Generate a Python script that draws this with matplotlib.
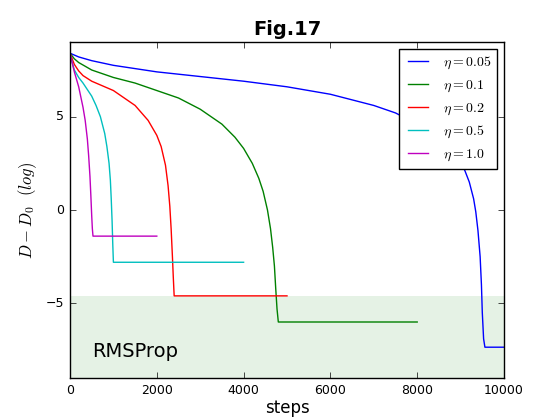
import matplotlib
matplotlib.use("Agg")
import matplotlib.pyplot as plt

plt.style.use('classic')

labels = [r'$\eta=0.05$', r'$\eta=0.1$', r'$\eta=0.2$', r'$\eta=0.5$', r'$\eta=1.0$']
colors = ['b', 'g', 'r', 'c', 'm']

x_005 = [0, 100, 200, 500, 1000, 2000, 3000, 4000, 5000, 6000, 7000, 7500, 8000, 8500, 8800, 9000, 9100, 9200, 9300, 9350, 9400, 9450, 9480, 9500, 9530, 9560, 10000]
y_005 = [8.4, 8.3, 8.2, 8.0, 7.75, 7.4, 7.15, 6.9, 6.6, 6.2, 5.6, 5.2, 4.6, 3.8, 3.2, 2.6, 2.1, 1.5, 0.6, -0.1, -1.1, -2.5, -4.0, -5.5, -6.9, -7.35, -7.35]
x_01 = [0, 100, 200, 500, 1000, 1500, 2000, 2500, 3000, 3500, 3800, 4000, 4200, 4350, 4450, 4550, 4620, 4670, 4710, 4740, 4770, 4800, 8000]
y_01 = [8.4, 8.1, 7.9, 7.5, 7.1, 6.8, 6.4, 6.0, 5.4, 4.6, 3.9, 3.3, 2.5, 1.7, 1.0, 0.0, -1.0, -2.0, -3.0, -4.2, -5.3, -6.0, -6.0]
x_02 = [0, 50, 100, 200, 300, 500, 1000, 1500, 1800, 2000, 2100, 2200, 2260, 2300, 2330, 2360, 2380, 2400, 5000]
y_02 = [8.4, 8.1, 7.8, 7.45, 7.2, 6.9, 6.4, 5.6, 4.8, 4.0, 3.4, 2.4, 1.3, 0.2, -1.0, -2.5, -3.6, -4.6, -4.6]
x_05 = [0, 50, 100, 200, 300, 500, 600, 700, 800, 850, 900, 930, 950, 970, 985, 1000, 4000]
y_05 = [8.4, 7.9, 7.5, 7.1, 6.8, 6.1, 5.6, 5.0, 4.1, 3.4, 2.5, 1.6, 0.6, -0.6, -1.8, -2.8, -2.8]
x_10 = [0, 50, 100, 200, 300, 350, 400, 430, 460, 480, 500, 515, 530, 2000]
y_10 = [8.4, 7.9, 7.4, 6.6, 5.5, 4.8, 3.8, 2.9, 1.8, 0.8, -0.3, -1.0, -1.4, -1.4]

xs = [x_005, x_01, x_02, x_05, x_10]
ys = [y_005, y_01, y_02, y_05, y_10]

shade_low, shade_high = -9, -4.6

fig, ax = plt.subplots(figsize=(5.6, 4.2), dpi=100)
fig.subplots_adjust(left=0.125, right=0.9, top=0.9, bottom=0.1)
for x, y, c, l in zip(xs, ys, colors, labels):
    ax.plot(x, y, color=c, label=l, linewidth=1)
ax.axhspan(shade_low, shade_high, color='green', alpha=0.1, linewidth=0)
ax.text(500, -7.6, 'RMSProp', fontsize=14, va='center')
ax.set_xlim(0, 10000)
ax.set_ylim(-9, 9)
ax.set_yticks([-5, 0, 5])
ax.set_xticks([0, 2000, 4000, 6000, 8000, 10000])
ax.tick_params(labelsize=9)
ax.set_xlabel('steps', fontsize=12, labelpad=2)
ax.set_ylabel(r'$D-D_0\ \ (log)$', fontsize=12)
ax.set_title('Fig.17', fontsize=14, fontweight='bold')
ax.legend(loc='upper right', fontsize=10)
fig.savefig('out.png', dpi=100)
